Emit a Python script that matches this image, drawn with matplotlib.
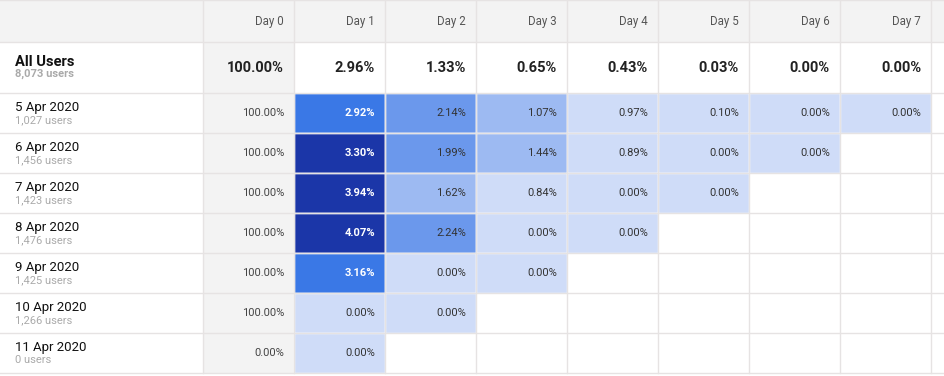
import matplotlib.pyplot as plt
from matplotlib.patches import Rectangle

plt.rcParams["font.family"] = ["Roboto", "DejaVu Sans"]

DAYS = ["Day 0", "Day 1", "Day 2", "Day 3", "Day 4", "Day 5", "Day 6", "Day 7"]
TOTAL_LABEL = "All Users"
TOTAL_USERS = "8,073 users"
TOTAL_VALUES = [100.00, 2.96, 1.33, 0.65, 0.43, 0.03, 0.00, 0.00]

COHORTS = ["5 Apr 2020", "6 Apr 2020", "7 Apr 2020", "8 Apr 2020",
           "9 Apr 2020", "10 Apr 2020", "11 Apr 2020"]
COHORT_USERS = ["1,027 users", "1,456 users", "1,423 users", "1,476 users",
                "1,425 users", "1,266 users", "0 users"]
RETENTION = [
    [100.00, 2.92, 2.14, 1.07, 0.97, 0.10, 0.00, 0.00],
    [100.00, 3.30, 1.99, 1.44, 0.89, 0.00, 0.00],
    [100.00, 3.94, 1.62, 0.84, 0.00, 0.00],
    [100.00, 4.07, 2.24, 0.00, 0.00],
    [100.00, 3.16, 0.00, 0.00],
    [100.00, 0.00, 0.00],
    [0.00, 0.00],
]

# layout in pixels
W, H = 945, 376
LABEL_W = 203
COL_W = 91
HEAD_H = 42
TOTAL_H = 51
ROW_H = 40
GRID = "#e6e3e3"
GRAY_BG = "#f3f3f3"


def cell_color(v):
    if v >= 3.2:
        return "#1b36a8", "white"
    if v >= 2.5:
        return "#3a78e6", "white"
    if v >= 1.8:
        return "#6b98ec", "#333333"
    if v >= 1.0:
        return "#9dbaf2", "#333333"
    return "#cfdcf8", "#333333"


def main():
    fig = plt.figure(figsize=(W / 100, H / 100), dpi=100)
    ax = fig.add_axes([0, 0, 1, 1])
    ax.set_xlim(0, W)
    ax.set_ylim(H, 0)
    ax.axis("off")

    ncols = len(DAYS)
    body_top = HEAD_H + TOTAL_H
    bottom = body_top + ROW_H * len(COHORTS)

    # header background and day-0 column background
    ax.add_patch(Rectangle((0, 0), W, HEAD_H, facecolor=GRAY_BG, lw=0))
    ax.add_patch(Rectangle((LABEL_W, HEAD_H), COL_W, bottom - HEAD_H,
                           facecolor=GRAY_BG, lw=0))

    # grid lines
    ys = [0, HEAD_H, body_top] + [body_top + ROW_H * (i + 1) for i in range(len(COHORTS))]
    for y in ys:
        ax.plot([0, W], [y, y], color=GRID, lw=1)
    xs = [LABEL_W + COL_W * i for i in range(ncols + 2)]
    for x in xs:
        ax.plot([x, x], [0, bottom], color=GRID, lw=1)

    # header labels
    for j, d in enumerate(DAYS):
        ax.text(LABEL_W + COL_W * (j + 1) - 10, HEAD_H / 2, d, ha="right",
                va="center", fontsize=8.3, color="#555555")

    # total row
    ax.text(15, HEAD_H + 20, TOTAL_LABEL, fontsize=10.5, fontweight="bold",
            color="#111111", va="center")
    ax.text(15, HEAD_H + 32, TOTAL_USERS, fontsize=8, fontweight="bold",
            color="#aaaaaa", va="center")
    for j, v in enumerate(TOTAL_VALUES):
        ax.text(LABEL_W + COL_W * (j + 1) - 10, HEAD_H + TOTAL_H / 2 + 1,
                f"{v:.2f}%", ha="right", va="center", fontsize=10.5,
                fontweight="bold", color="#222222")

    # cohort rows
    for i, (name, users, vals) in enumerate(zip(COHORTS, COHORT_USERS, RETENTION)):
        y0 = body_top + ROW_H * i
        ax.text(15, y0 + 14.5, name, fontsize=9.5, color="#111111", va="center")
        ax.text(15, y0 + 27, users, fontsize=8, color="#aaaaaa", va="center")
        for j, v in enumerate(vals):
            x0 = LABEL_W + COL_W * j
            tcolor = "#444444"
            weight = "normal"
            if j > 0:
                fc, tcolor = cell_color(v)
                ax.add_patch(Rectangle((x0, y0), COL_W, ROW_H, facecolor=fc,
                                       edgecolor="white", lw=1))
                if tcolor == "white":
                    weight = "bold"
            ax.text(x0 + COL_W - 10, y0 + ROW_H / 2, f"{v:.2f}%", ha="right",
                    va="center", fontsize=8, color=tcolor, fontweight=weight)

    fig.savefig("out.png", dpi=100)
    plt.close(fig)


if __name__ == "__main__":
    main()
